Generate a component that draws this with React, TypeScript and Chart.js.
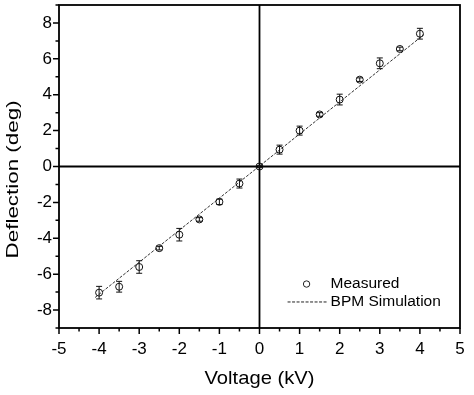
import React, { useEffect, useRef } from "react";
import { Chart, registerables } from "chart.js";

Chart.register(...registerables);

const voltage = [-4, -3.5, -3, -2.5, -2, -1.5, -1, -0.5, 0, 0.5, 1, 1.5, 2, 2.5, 3, 3.5, 4];
const deflection = [-7.03, -6.7, -5.6, -4.55, -3.8, -2.95, -1.97, -0.95, 0, 0.94, 2.0, 2.9, 3.73, 4.84, 5.75, 6.55, 7.4];
const errorBar = [0.35, 0.3, 0.35, 0.1, 0.35, 0.1, 0.15, 0.25, 0.05, 0.25, 0.25, 0.1, 0.3, 0.1, 0.3, 0.1, 0.3];

const simVoltage = [-4.1, 4.1];
const simDeflection = [-7.3, 7.35];

const xMajorTicks = [-5, -4, -3, -2, -1, 0, 1, 2, 3, 4, 5];
const xMinorTicks = [-4.5, -3.5, -2.5, -1.5, -0.5, 0.5, 1.5, 2.5, 3.5, 4.5];
const yMajorTicks = [-8, -6, -4, -2, 0, 2, 4, 6, 8];
const yMinorTicks = [-9, -7, -5, -3, -1, 1, 3, 5, 7, 9];

const xTitle = "Voltage (kV)";
const yTitle = "Deflection (deg)";

const FONT = "'Liberation Sans', Arial, Helvetica, sans-serif";

function drawStretchedText(ctx: any, text: string, cx: number, cy: number, rot: number, size: number, length: number) {
  ctx.save();
  ctx.font = `${size}px ${FONT}`;
  const w = ctx.measureText(text).width;
  ctx.translate(cx, cy);
  ctx.rotate(rot);
  ctx.scale(length / w, 1);
  ctx.fillStyle = "#000";
  ctx.textAlign = "center";
  ctx.textBaseline = "middle";
  ctx.fillText(text, 0, 0);
  ctx.restore();
}

const framePlugin = {
  id: "framePlugin",
  beforeDatasetsDraw(chart: any) {
    const { ctx, chartArea, scales } = chart;
    const x = scales.x;
    const y = scales.y;
    ctx.save();
    ctx.strokeStyle = "#000";
    ctx.lineWidth = 1.8;
    const x0 = x.getPixelForValue(0);
    const y0 = y.getPixelForValue(0);
    ctx.beginPath();
    ctx.moveTo(x0, chartArea.top);
    ctx.lineTo(x0, chartArea.bottom);
    ctx.moveTo(chartArea.left, y0);
    ctx.lineTo(chartArea.right, y0);
    ctx.stroke();
    ctx.restore();
  },
  afterDatasetsDraw(chart: any) {
    const { ctx, chartArea, scales } = chart;
    const x = scales.x;
    const y = scales.y;
    ctx.save();
    // error bars
    ctx.strokeStyle = "#111";
    ctx.lineWidth = 1;
    for (let i = 0; i < voltage.length; i++) {
      const px = x.getPixelForValue(voltage[i]);
      const top = y.getPixelForValue(deflection[i] + errorBar[i]);
      const bot = y.getPixelForValue(deflection[i] - errorBar[i]);
      ctx.beginPath();
      ctx.moveTo(px, top);
      ctx.lineTo(px, bot);
      ctx.moveTo(px - 3, top);
      ctx.lineTo(px + 3, top);
      ctx.moveTo(px - 3, bot);
      ctx.lineTo(px + 3, bot);
      ctx.stroke();
    }
    // frame
    ctx.strokeStyle = "#000";
    ctx.lineWidth = 1.8;
    ctx.strokeRect(chartArea.left, chartArea.top, chartArea.right - chartArea.left, chartArea.bottom - chartArea.top);
    // ticks
    ctx.lineWidth = 1.5;
    ctx.beginPath();
    for (const v of xMajorTicks) {
      const px = x.getPixelForValue(v);
      ctx.moveTo(px, chartArea.bottom);
      ctx.lineTo(px, chartArea.bottom + 6);
    }
    for (const v of xMinorTicks) {
      const px = x.getPixelForValue(v);
      ctx.moveTo(px, chartArea.bottom);
      ctx.lineTo(px, chartArea.bottom + 3.5);
    }
    for (const v of yMajorTicks) {
      const py = y.getPixelForValue(v);
      ctx.moveTo(chartArea.left, py);
      ctx.lineTo(chartArea.left - 6, py);
    }
    for (const v of yMinorTicks) {
      const py = y.getPixelForValue(v);
      ctx.moveTo(chartArea.left, py);
      ctx.lineTo(chartArea.left - 3.5, py);
    }
    ctx.stroke();

    // axis titles
    drawStretchedText(ctx, xTitle, (chartArea.left + chartArea.right) / 2, chartArea.bottom + 50.5, 0, 19, 110);
    drawStretchedText(ctx, yTitle, 13, y.getPixelForValue(-0.72), -Math.PI / 2, 17, 158);

    // legend
    const ds = chart.data.datasets;
    const lx = x.getPixelForValue(0.7);
    const ly1 = y.getPixelForValue(-6.55);
    const ly2 = y.getPixelForValue(-7.55);
    ctx.lineWidth = 1;
    ctx.strokeStyle = "#222";
    ctx.beginPath();
    ctx.arc(lx + 19, ly1, 3.2, 0, Math.PI * 2);
    ctx.stroke();
    ctx.setLineDash([3, 1.5]);
    ctx.beginPath();
    ctx.moveTo(lx, ly2);
    ctx.lineTo(lx + 39, ly2);
    ctx.stroke();
    ctx.setLineDash([]);
    ctx.fillStyle = "#000";
    ctx.font = `15.5px ${FONT}`;
    ctx.textBaseline = "middle";
    ctx.textAlign = "left";
    ctx.fillText(ds[0].label, lx + 43, ly1);
    ctx.fillText(ds[1].label, lx + 43, ly2);
    ctx.restore();
  },
};

export default function App() {
  const ref = useRef<HTMLCanvasElement | null>(null);
  useEffect(() => {
    if (!ref.current) return;
    const chart = new Chart(ref.current, {
      type: "scatter",
      data: {
        datasets: [
          {
            label: "Measured",
            data: voltage.map((v, i) => ({ x: v, y: deflection[i] })),
            pointStyle: "circle",
            pointRadius: 3.5,
            pointBorderWidth: 1,
            pointBorderColor: "#111",
            pointBackgroundColor: "rgba(255,255,255,0)",
            showLine: false,
            order: 1,
          },
          {
            label: "BPM Simulation",
            data: simVoltage.map((v, i) => ({ x: v, y: simDeflection[i] })),
            showLine: true,
            borderColor: "#333",
            borderWidth: 1,
            borderDash: [3, 1.5],
            pointRadius: 0,
            order: 2,
          },
        ],
      },
      plugins: [framePlugin],
      options: {
        animation: false,
        responsive: true,
        maintainAspectRatio: false,
        layout: { padding: { left: 0, right: 14, top: 4, bottom: 0 } },
        plugins: {
          legend: { display: false },
          tooltip: { enabled: false },
        },
        scales: {
          x: {
            type: "linear",
            min: -5,
            max: 5,
            afterFit: (s: any) => {
              s.height = 67;
              s.paddingLeft = 0;
              s.paddingRight = 0;
            },
            afterBuildTicks: (s: any) => {
              s.ticks = xMajorTicks.map((v) => ({ value: v }));
            },
            grid: { display: false, drawTicks: false },
            border: { display: false },
            ticks: {
              autoSkip: false,
              padding: 11,
              color: "#000",
              font: { family: FONT, size: 17 },
              callback: (v: any) => String(v),
            },
            title: { display: false },
          },
          y: {
            type: "linear",
            min: -9,
            max: 9,
            afterFit: (s: any) => {
              s.width = 59;
              s.paddingTop = 0;
              s.paddingBottom = 0;
            },
            afterBuildTicks: (s: any) => {
              s.ticks = yMajorTicks.map((v) => ({ value: v }));
            },
            grid: { display: false, drawTicks: false },
            border: { display: false },
            ticks: {
              autoSkip: false,
              padding: 7,
              color: "#000",
              font: { family: FONT, size: 17 },
              callback: (v: any) => String(v),
            },
            title: { display: false },
          },
        },
      },
    });
    return () => chart.destroy();
  }, []);
  return (
    <div style={{ position: "fixed", left: 0, top: 0, width: 474, height: 395, background: "#fff" }}>
      <canvas ref={ref} />
    </div>
  );
}
